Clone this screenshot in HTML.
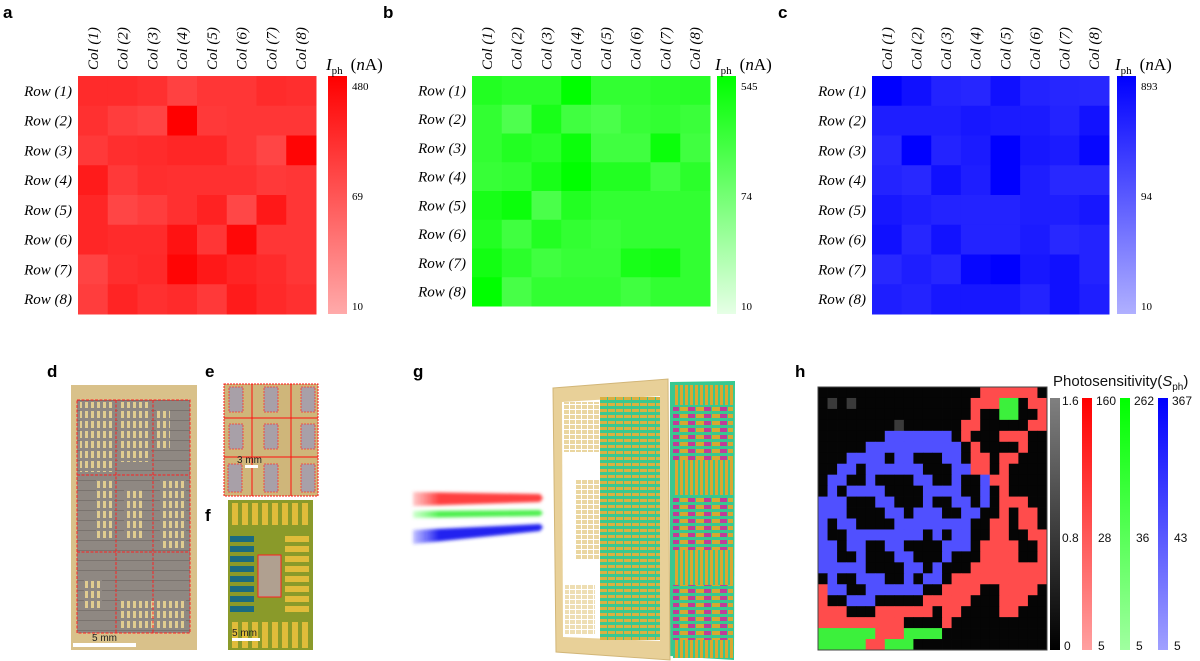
<!DOCTYPE html>
<html><head><meta charset="utf-8"><style>
html,body{margin:0;padding:0;background:#fff}
svg{display:block}
.pl{font-family:"Liberation Sans",sans-serif;font-weight:bold;font-size:17px}
.ser{font-family:"Liberation Serif",serif}
.san{font-family:"Liberation Sans",sans-serif}
</style></head><body>
<svg id="fig" width="1200" height="661" viewBox="0 0 1200 661" xmlns="http://www.w3.org/2000/svg">
<defs>
<linearGradient id="gr" x1="0" y1="1" x2="0" y2="0"><stop offset="0" stop-color="#ffaaaa"/><stop offset="1" stop-color="#ff0000"/></linearGradient>
<linearGradient id="gg" x1="0" y1="1" x2="0" y2="0"><stop offset="0" stop-color="#e6ffe6"/><stop offset="1" stop-color="#00ff00"/></linearGradient>
<linearGradient id="gb" x1="0" y1="1" x2="0" y2="0"><stop offset="0" stop-color="#b0b0ff"/><stop offset="1" stop-color="#0000ff"/></linearGradient>
<linearGradient id="hk" x1="0" y1="1" x2="0" y2="0"><stop offset="0" stop-color="#000"/><stop offset="1" stop-color="#808080"/></linearGradient>
<linearGradient id="hr" x1="0" y1="1" x2="0" y2="0"><stop offset="0" stop-color="#ffa0a0"/><stop offset="1" stop-color="#ff0000"/></linearGradient>
<linearGradient id="hg" x1="0" y1="1" x2="0" y2="0"><stop offset="0" stop-color="#a0ffa0"/><stop offset="1" stop-color="#00ff00"/></linearGradient>
<linearGradient id="hb" x1="0" y1="1" x2="0" y2="0"><stop offset="0" stop-color="#a0a0ff"/><stop offset="1" stop-color="#0000ff"/></linearGradient>
<linearGradient id="beamR" x1="0" x2="1"><stop offset="0" stop-color="#ff5050" stop-opacity="0.3"/><stop offset="0.2" stop-color="#ff4040"/><stop offset="1" stop-color="#ff4040"/></linearGradient>
<linearGradient id="beamG" x1="0" x2="1"><stop offset="0" stop-color="#60ff60" stop-opacity="0.3"/><stop offset="0.2" stop-color="#50f050"/><stop offset="1" stop-color="#50f050"/></linearGradient>
<linearGradient id="beamB" x1="0" x2="1"><stop offset="0" stop-color="#3030ff" stop-opacity="0.3"/><stop offset="0.2" stop-color="#2020f0"/><stop offset="1" stop-color="#2020f0"/></linearGradient>
<filter id="blur"><feGaussianBlur stdDeviation="1.5"/></filter>
<pattern id="pd" width="6" height="10" patternUnits="userSpaceOnUse"><rect width="6" height="10" fill="#8f8882"/><rect x="1" y="1" width="3" height="7" fill="#e0cc90"/></pattern>
<pattern id="pdk" width="6" height="10" patternUnits="userSpaceOnUse"><rect width="6" height="10" fill="#8f8882"/><rect x="0" y="0" width="6" height="1" fill="#7a736e"/></pattern>
<pattern id="pg" width="8" height="6" patternUnits="userSpaceOnUse"><rect width="8" height="6" fill="#38c890"/><rect x="0" y="1" width="7" height="3" fill="#d8b040"/></pattern>
<pattern id="pr" width="16" height="7" patternUnits="userSpaceOnUse"><rect width="16" height="7" fill="#38c890"/><rect x="0" y="1" width="7" height="4" fill="#c03c98"/><rect x="8" y="1" width="8" height="4" fill="#d8a830"/></pattern>
<pattern id="pv" width="5" height="30" patternUnits="userSpaceOnUse"><rect width="5" height="30" fill="#38c890"/><rect x="0" y="0" width="3" height="30" fill="#d8a830"/></pattern>
<pattern id="pw" width="6" height="5" patternUnits="userSpaceOnUse"><rect width="6" height="5" fill="#fff"/><rect x="0" y="0" width="5" height="4" fill="#ead6a0"/></pattern>
</defs>

<g id="panelA"></g>
<g id="panelB"></g>
<g id="panelC"></g>

<text class="pl" x="3" y="18">a</text>
<text class="pl" x="383" y="18">b</text>
<text class="pl" x="778" y="18">c</text>
<text class="pl" x="47" y="377">d</text>
<text class="pl" x="205" y="377">e</text>
<text class="pl" x="205" y="521">f</text>
<text class="pl" x="413" y="377">g</text>
<text class="pl" x="795" y="377">h</text>

<g>
<rect x="71" y="385" width="126" height="265" fill="#d9c18a"/>
<rect x="77" y="400" width="113" height="233" fill="url(#pdk)"/>
<rect x="80" y="402" width="35" height="70" fill="url(#pd)"/>
<rect x="118" y="402" width="33" height="60" fill="url(#pd)"/>
<rect x="156" y="410" width="14" height="40" fill="url(#pd)"/>
<rect x="96" y="480" width="18" height="60" fill="url(#pd)"/>
<rect x="124" y="490" width="18" height="50" fill="url(#pd)"/>
<rect x="160" y="480" width="26" height="70" fill="url(#pd)"/>
<rect x="120" y="600" width="66" height="30" fill="url(#pd)"/>
<rect x="84" y="580" width="18" height="30" fill="url(#pd)"/>
<g stroke="#ff2020" stroke-width="1" stroke-dasharray="3,1.5" fill="none">
<rect x="77" y="400" width="113" height="233"/>
<line x1="77" y1="475" x2="190" y2="475"/><line x1="77" y1="552" x2="190" y2="552"/>
<line x1="116" y1="400" x2="116" y2="633"/><line x1="153" y1="400" x2="153" y2="633"/>
</g>
<rect x="73" y="643" width="63" height="4" fill="#fff"/>
<text class="san" x="92" y="641" font-size="10" fill="#222">5 mm</text>
</g>

<g>
<rect x="224" y="384" width="94" height="112" fill="#cfb67a"/>
<g fill="#a8a0a8" stroke="#ff3030" stroke-width="0.8" stroke-dasharray="2,1">
<rect x="229" y="387" width="14" height="25"/><rect x="264" y="387" width="14" height="25"/><rect x="301" y="387" width="14" height="25"/>
<rect x="229" y="424" width="14" height="25"/><rect x="264" y="424" width="14" height="25"/><rect x="301" y="424" width="14" height="25"/>
<rect x="228" y="464" width="14" height="28"/><rect x="264" y="464" width="14" height="28"/><rect x="301" y="464" width="14" height="28"/>
</g>
<g stroke="#ff1010" stroke-width="1" fill="none"><rect x="224" y="384" width="94" height="112" stroke-dasharray="2,1"/>
<line x1="224" y1="418" x2="318" y2="418"/><line x1="224" y1="457" x2="318" y2="457"/>
<line x1="252" y1="384" x2="252" y2="496"/><line x1="291" y1="384" x2="291" y2="496"/></g>
<rect x="245" y="465" width="13" height="3" fill="#fff"/>
<text class="san" x="237" y="463" font-size="10" fill="#222">3 mm</text>
</g>

<g>
<rect x="228" y="500" width="85" height="150" fill="#8a9a2a"/>
<g fill="#e0bc3a"><rect x="232" y="503" width="6" height="22"/><rect x="242" y="503" width="6" height="22"/><rect x="252" y="503" width="6" height="22"/><rect x="262" y="503" width="6" height="22"/><rect x="272" y="503" width="6" height="22"/><rect x="282" y="503" width="6" height="22"/><rect x="292" y="503" width="6" height="22"/><rect x="302" y="503" width="6" height="22"/>
<rect x="285" y="536" width="24" height="6"/><rect x="285" y="546" width="24" height="6"/><rect x="285" y="556" width="24" height="6"/><rect x="285" y="566" width="24" height="6"/><rect x="285" y="576" width="24" height="6"/><rect x="285" y="586" width="24" height="6"/><rect x="285" y="596" width="24" height="6"/><rect x="285" y="606" width="24" height="6"/>
<rect x="232" y="622" width="6" height="26"/><rect x="242" y="622" width="6" height="26"/><rect x="252" y="622" width="6" height="26"/><rect x="262" y="622" width="6" height="26"/><rect x="272" y="622" width="6" height="26"/><rect x="282" y="622" width="6" height="26"/><rect x="292" y="622" width="6" height="26"/><rect x="302" y="622" width="6" height="26"/></g>
<g fill="#1a6a80"><rect x="230" y="536" width="24" height="6"/><rect x="230" y="546" width="24" height="6"/><rect x="230" y="556" width="24" height="6"/><rect x="230" y="566" width="24" height="6"/><rect x="230" y="576" width="24" height="6"/><rect x="230" y="586" width="24" height="6"/><rect x="230" y="596" width="24" height="6"/><rect x="230" y="606" width="24" height="6"/></g>
<rect x="258" y="555" width="23" height="42" fill="#b0a090" stroke="#ff2020" stroke-width="1"/>
<rect x="232" y="638" width="28" height="3" fill="#fff"/>
<text class="san" x="232" y="636" font-size="10" fill="#222">5 mm</text>
</g>

<g>
<g filter="url(#blur)">
<polygon points="413,492 540,494 543,498 540,502 413,506" fill="url(#beamR)"/>
<polygon points="413,511 540,510 543,513 540,516 413,518" fill="url(#beamG)"/>
<polygon points="413,530 540,524 543,527 540,531 413,544" fill="url(#beamB)"/>
</g>
<polygon points="670,382 735,381 734,660 670,656" fill="#38c890"/>
<rect x="673" y="385" width="60" height="20" fill="url(#pv)"/>
<rect x="673" y="405" width="60" height="55" fill="url(#pr)"/>
<rect x="673" y="460" width="60" height="35" fill="url(#pv)"/>
<rect x="673" y="495" width="60" height="55" fill="url(#pr)"/>
<rect x="673" y="550" width="60" height="35" fill="url(#pv)"/>
<rect x="673" y="585" width="60" height="55" fill="url(#pr)"/>
<rect x="673" y="640" width="60" height="18" fill="url(#pv)"/>
<polygon points="553,388 668,379 670,660 556,652" fill="#e8d098" stroke="#d2b678" stroke-width="1"/>
<polygon points="562,402 660,396 660,641 563,637" fill="#fff"/>
<rect x="600" y="397" width="60" height="243" fill="url(#pg)"/>
<rect x="563" y="402" width="37" height="50" fill="url(#pw)"/>
<rect x="575" y="480" width="25" height="80" fill="url(#pw)"/>
<rect x="565" y="585" width="30" height="50" fill="url(#pw)" opacity="0.8"/>
</g>

<g id="panelH"></g>
<text class="san" x="1053" y="386" font-size="15" fill="#111">Photosensitivity(<tspan font-style="italic">S</tspan><tspan font-size="10" dy="4">ph</tspan><tspan dy="-4">)</tspan></text>
<g class="san" font-size="12" fill="#111">
<rect x="1050" y="398" width="10" height="252" fill="url(#hk)"/>
<rect x="1082" y="398" width="10" height="252" fill="url(#hr)"/>
<rect x="1120" y="398" width="10" height="252" fill="url(#hg)"/>
<rect x="1158" y="398" width="10" height="252" fill="url(#hb)"/>
<text x="1062" y="405">1.6</text><text x="1062" y="542">0.8</text><text x="1064" y="650">0</text>
<text x="1096" y="405">160</text><text x="1098" y="542">28</text><text x="1098" y="650">5</text>
<text x="1134" y="405">262</text><text x="1136" y="542">36</text><text x="1136" y="650">5</text>
<text x="1172" y="405">367</text><text x="1174" y="542">43</text><text x="1174" y="650">5</text>
</g>
</svg>
<script>
const NS='http://www.w3.org/2000/svg';
const colLabels=['Col (1)','Col (2)','Col (3)','Col (4)','Col (5)','Col (6)','Col (7)','Col (8)'];
const rowLabels=['Row (1)','Row (2)','Row (3)','Row (4)','Row (5)','Row (6)','Row (7)','Row (8)'];
const valuesA=[[180,180,160,110,140,140,180,170],[160,120,105,480,130,140,140,140],[130,170,180,200,200,140,100,430],[260,130,170,160,160,160,130,140],[200,100,120,160,220,95,280,140],[200,180,180,320,140,400,140,140],[105,170,190,430,280,210,180,140],[120,210,160,180,130,260,190,160]];
const valuesB=[[300,260,260,545,230,230,260,270],[230,140,360,180,150,210,230,200],[230,300,260,450,180,180,450,180],[210,230,360,545,300,300,180,260],[360,450,150,300,230,230,230,230],[300,180,300,230,200,230,230,230],[400,260,180,210,210,360,400,230],[545,160,230,230,230,180,230,230]];
const valuesC=[[893,600,370,340,600,370,340,320],[420,420,420,500,450,450,370,560],[320,893,370,450,893,500,450,750],[370,320,600,420,893,420,320,320],[500,420,370,370,370,420,420,500],[600,340,560,370,370,450,320,370],[320,420,340,750,893,500,600,370],[420,370,500,500,500,370,600,420]];
const ticksA=['480','69','10'];
const ticksB=['545','74','10'];
const ticksC=['893','94','10'];
const hRows=[
'kkkkkkkkkkkkkkkkkrrrrrrk','kdkdkkkkkkkkkkkkrrrggkrr','kkkkkkkkkkkkkkkkrkkggkkr','kkkkkkkkdkkkkkkrrkkkkkrr',
'kkkkkkkbbbbbbbkrkkkrrrkk','kkkkkbbbbbbbbbbkrkkkkrkk','kkkbbbbkbbkkkbbkrrkrrkkk','kkbbkbbbbbbkkkbbrrkrkkkk',
'kbbkkbkkkkbbkkbkkbrrkkkk','kbkbbbbkkkkbbbbkkbkrkkkk','bbbkkkbbkkkbkkbbkbkrrrkk','bbbkkkkbbkbbbkkbbkkrkrrk',
'bkbbkkkkbbbbbbbbkkrrkrrk','bkkbbbbbbbbkbkbbkkrrkkrr','bbkbbkkbbkkkkbbbkrrrrkkr','bbkkbkkkbbkkkbkkkrrrrkkr',
'bbbbbkkkkbbkbkkkrrrrrrrr','kbkkbbbkkbkbbkrrrrrrrrrr','rbbkkbbbbbbkkrrrrkkrrrrk','rkkbbbkkkkkrrrrrkkkrrrkk',
'rrrkkkrrrrrrkrrkkkkrrkkk','rrrrrrrrrkkkkrkkkkkkkkkk','ggggggrrrggggkkkkkkkkkkk','gggggrrgggkkkkkkkkkkkkkk'];
const hColors={k:'#050505',d:'#3a3a3a',r:'#ff4c4c',g:'#3cf03c',b:'#5050ff'};

function mix(lo,hi,t){return 'rgb('+lo.map((v,i)=>Math.round(v+(hi[i]-v)*t)).join(',')+')';}
function logT(v,min,max){return Math.max(0,Math.min(1,Math.log(v/min)/Math.log(max/min)));}

function heat(gid,vals,x0,y0,w,h,max,lo,hi,grad,cbx,ticks){
  const g=document.getElementById(gid);
  const cw=w/8,ch=h/8;
  const xs=i=>x0+i*cw, ys=j=>y0+j*ch;
  vals.forEach((row,j)=>row.forEach((v,i)=>{
    const r=document.createElementNS(NS,'rect');
    r.setAttribute('x',xs(i));r.setAttribute('y',ys(j));
    r.setAttribute('width',cw+0.5);r.setAttribute('height',ch+0.5);
    r.setAttribute('fill',mix(lo,hi,logT(v,10,max)));
    
    
    g.appendChild(r);
  }));
  colLabels.forEach((c,i)=>{
    const t=document.createElementNS(NS,'text');
    const cx=xs(i)+cw/2+5;
    t.setAttribute('transform','translate('+cx+',70) rotate(-90)');
    t.setAttribute('class','ser');t.setAttribute('font-size','15');t.setAttribute('font-style','italic');
    t.textContent=c;
    
    
    g.appendChild(t);
  });
  rowLabels.forEach((c,j)=>{
    const t=document.createElementNS(NS,'text');
    t.setAttribute('x',x0-6);t.setAttribute('y',ys(j)+ch/2+5);
    t.setAttribute('text-anchor','end');
    t.setAttribute('class','ser');t.setAttribute('font-size','15');t.setAttribute('font-style','italic');
    t.textContent=c;
    
    
    g.appendChild(t);
  });
  const cb=document.createElementNS(NS,'rect');
  cb.setAttribute('x',cbx);cb.setAttribute('y',76);cb.setAttribute('width',19);cb.setAttribute('height',238);
  cb.setAttribute('fill','url(#'+grad+')');
  
  
  g.appendChild(cb);
  const ty=[90,200,310];
  ticks.forEach((s,k)=>{
    const t=document.createElementNS(NS,'text');
    t.setAttribute('x',cbx+24);t.setAttribute('y',ty[k]);
    t.setAttribute('class','ser');t.setAttribute('font-size','11');
    t.textContent=s;
    
    
    g.appendChild(t);
  });
  const tt=document.createElementNS(NS,'text');
  tt.setAttribute('x',cbx-2);tt.setAttribute('y',70);
  tt.setAttribute('class','ser');tt.setAttribute('font-size','17');
  tt.innerHTML='<tspan font-style="italic">I</tspan><tspan font-size="11" dy="4">ph</tspan><tspan dy="-4" dx="8">(</tspan><tspan font-style="italic">n</tspan><tspan>A)</tspan>';
  
  
  g.appendChild(tt);
}
heat('panelA',valuesA,78,76,238,238,480,[255,170,170],[255,0,0],'gr',328,ticksA);
heat('panelB',valuesB,472,76,238,230,545,[230,255,230],[0,255,0],'gg',717,ticksB);
heat('panelC',valuesC,872,76,237,238,893,[176,176,255],[0,0,255],'gb',1117,ticksC);

(function(){
  const g=document.getElementById('panelH');
  const x0=818,y0=387,w=229,h=263,n=24,cw=w/n,ch=h/hRows.length;
  hRows.forEach((row,j)=>{
    for(let i=0;i<row.length;i++){
      const r=document.createElementNS(NS,'rect');
      r.setAttribute('x',x0+i*cw);r.setAttribute('y',y0+j*ch);
      r.setAttribute('width',cw+0.4);r.setAttribute('height',ch+0.4);
      r.setAttribute('fill',hColors[row[i]]);
      
      
      g.appendChild(r);
    }
  });
  const b=document.createElementNS(NS,'rect');
  b.setAttribute('x',x0);b.setAttribute('y',y0);b.setAttribute('width',w);b.setAttribute('height',h);
  b.setAttribute('fill','none');b.setAttribute('stroke','#444');b.setAttribute('stroke-width','1');
  g.appendChild(b);
})();
</script>
</body></html>
